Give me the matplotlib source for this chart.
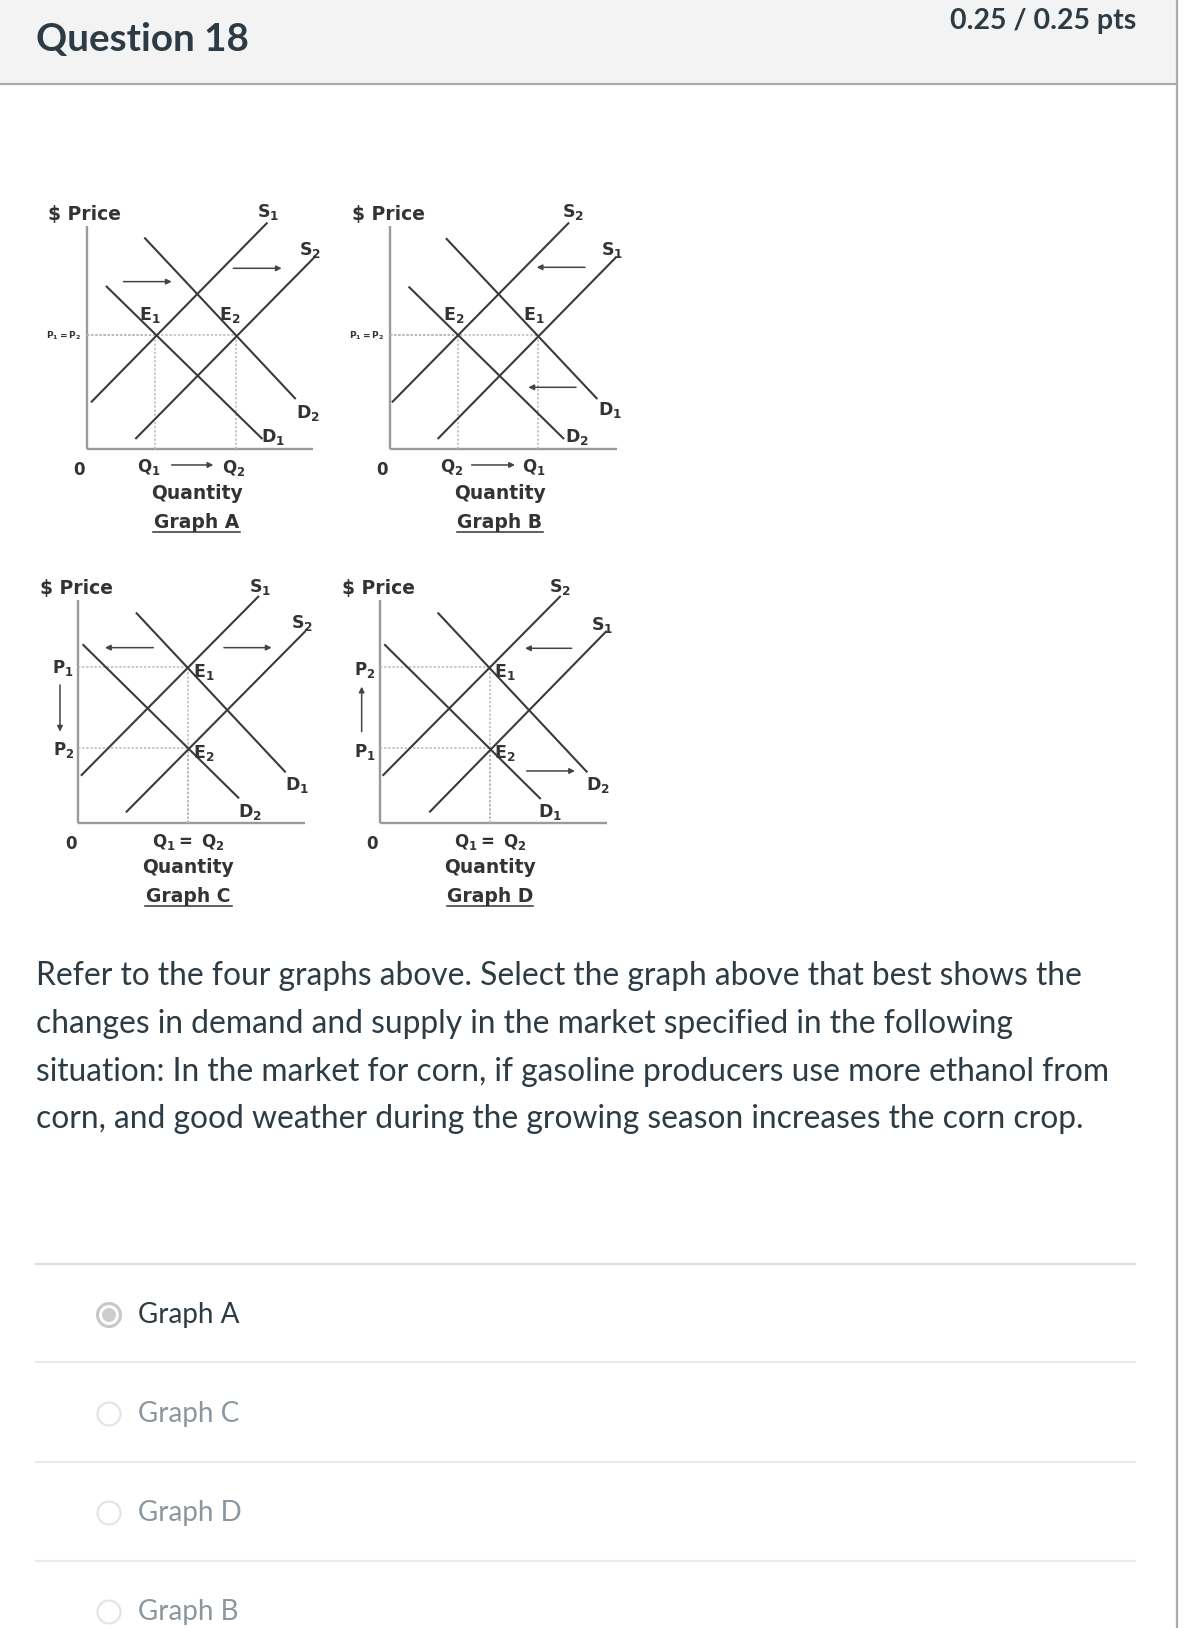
import matplotlib
matplotlib.use('Agg')
import matplotlib.pyplot as plt
from matplotlib.patches import Circle, Rectangle

plt.rcParams['mathtext.fontset'] = 'custom'
plt.rcParams['mathtext.rm'] = 'DejaVu Sans:bold'
plt.rcParams['mathtext.bf'] = 'DejaVu Sans:bold'
plt.rcParams['mathtext.it'] = 'DejaVu Sans:bold'

W, H = 1186, 1628

# ---------------- page text ----------------
question_title = 'Question 18'
score_text = '0.25 / 0.25 pts'
question_lines = [
    'Refer to the four graphs above. Select the graph above that best shows the',
    'changes in demand and supply in the market specified in the following',
    'situation: In the market for corn, if gasoline producers use more ethanol from',
    'corn, and good weather during the growing season increases the corn crop.',
]
option_labels = ['Graph A', 'Graph C', 'Graph D', 'Graph B']
selected_option = 'Graph A'

# ---------------- graph data (axis box: quantity 0..68, price 0..67) ----------------
graph_titles = ['Graph A', 'Graph B', 'Graph C', 'Graph D']

# curves: label -> (x pair, y pair)
A_curves = {'S1': ([1.5, 54.0], [14.3, 67.8]), 'S2': ([14.8, 68.5], [3.3, 57.8]),
            'D1': ([6.0, 52.5], [48.8, 3.3]), 'D2': ([17.5, 62.5], [63.3, 15.3])}
B_curves = {'S2': ([0.8, 53.5], [14.3, 67.8]), 'S1': ([14.5, 67.8], [3.3, 57.6]),
            'D2': ([5.8, 52.0], [48.6, 3.3]), 'D1': ([17.0, 62.0], [63.1, 15.3])}
C_curves = {'S1': ([1.0, 54.0], [14.5, 68.0]), 'S2': ([14.5, 68.0], [3.5, 57.5]),
            'D1': ([17.5, 62.0], [63.0, 15.5]), 'D2': ([1.5, 48.0], [53.5, 7.7])}
D_curves = {'S2': ([1.0, 54.0], [14.5, 68.0]), 'S1': ([15.0, 67.8], [3.5, 57.5]),
            'D2': ([17.5, 62.0], [63.0, 15.5]), 'D1': ([1.5, 48.0], [53.5, 7.5])}

# curve label positions
A_curve_labels = {'S1': (54.5, 71.3), 'S2': (67.0, 59.8), 'D2': (66.5, 10.8), 'D1': (56.0, 3.8)}
B_curve_labels = {'S2': (55.0, 71.3), 'S1': (66.5, 59.8), 'D1': (66.0, 11.8), 'D2': (56.0, 3.8)}
C_curve_labels = {'S1': (54.5, 71.0), 'S2': (67.0, 60.0), 'D1': (65.5, 11.5), 'D2': (51.5, 3.5)}
D_curve_labels = {'S2': (54.0, 71.0), 'S1': (66.5, 59.5), 'D2': (65.5, 11.5), 'D1': (51.0, 3.5)}

# equilibria: (x, y)
A_equil = {'E1': (20.5, 34.3), 'E2': (44.8, 34.3)}
B_equil = {'E2': (20.5, 34.3), 'E1': (44.5, 34.3)}
C_equil = {'E1': (33.0, 47.0), 'E2': (33.0, 22.5)}
D_equil = {'E1': (33.0, 47.0), 'E2': (33.0, 22.5)}

A_equil_labels = {'E1': (19.0, 40.3), 'E2': (43.0, 40.3)}
B_equil_labels = {'E2': (19.0, 40.3), 'E1': (43.0, 40.3)}
C_equil_labels = {'E1': (37.5, 45.5), 'E2': (37.5, 21.0)}
D_equil_labels = {'E1': (37.5, 45.5), 'E2': (37.5, 21.0)}

# shift arrows: (x start, y start, x end, y end)
A_arrows = [(11.0, 50.3, 25.5, 50.3), (44.0, 54.3, 58.5, 54.3), (25.5, -4.7, 38.0, -4.7)]
B_arrows = [(58.5, 54.6, 44.0, 54.6), (55.8, 18.6, 41.5, 18.6), (24.5, -4.7, 37.5, -4.7)]
C_arrows = [(22.5, 52.7, 8.0, 52.7), (43.7, 52.7, 58.0, 52.7), (-5.5, 41.5, -5.5, 27.5)]
D_arrows = [(57.5, 52.5, 43.5, 52.5), (44.0, 15.7, 58.5, 15.7), (-5.5, 27.5, -5.5, 41.0)]

# axis tick-like labels: (text, x, y, size)
A_axis_labels = [('P1=P2', -7.0, 34.0, 6.5), ('Q1', 18.5, -5.2, 12), ('Q2', 44.2, -5.7, 12)]
B_axis_labels = [('P1=P2', -7.0, 34.0, 6.5), ('Q2', 18.5, -5.2, 12), ('Q1', 43.0, -5.2, 12)]
C_axis_labels = [('P1', -4.5, 46.5, 12), ('P2', -4.5, 22.0, 12), ('Q1= Q2', 33.0, -5.5, 12)]
D_axis_labels = [('P2', -4.5, 46.0, 12), ('P1', -4.5, 21.5, 12), ('Q1= Q2', 33.0, -5.5, 12)]

# graph origins on the page (pixels)
graph_origins = [(86.7, 449.3), (390.0, 449.3), (78.3, 823.3), (380.0, 823.3)]
graph_curves = [A_curves, B_curves, C_curves, D_curves]
graph_curve_labels = [A_curve_labels, B_curve_labels, C_curve_labels, D_curve_labels]
graph_equil = [A_equil, B_equil, C_equil, D_equil]
graph_equil_labels = [A_equil_labels, B_equil_labels, C_equil_labels, D_equil_labels]
graph_arrows = [A_arrows, B_arrows, C_arrows, D_arrows]
graph_axis_labels = [A_axis_labels, B_axis_labels, C_axis_labels, D_axis_labels]

XMAX, YMAX = 68.0, 67.0
UNIT = 10.0 / 3.0  # pixels per data unit


def sub(label):
    out = ''
    for ch in label:
        if ch.isdigit():
            out += r'_{\mathrm{' + ch + '}}'
        elif ch == ' ':
            out += r'\ '
        else:
            out += r'\mathrm{' + ch + '}'
    return '$' + out + '$'


fig = plt.figure(figsize=(W / 100, H / 100), dpi=100)
fig.patch.set_facecolor('white')

bg = fig.add_axes([0, 0, 1, 1])
bg.set_xlim(0, W)
bg.set_ylim(H, 0)
bg.axis('off')

# header
bg.add_patch(Rectangle((0, 0), 1176, 84, facecolor='#f3f3f3', edgecolor='none'))
bg.plot([0, 1177], [84, 84], color='#ababab', lw=1.6)
bg.plot([1177, 1177], [0, H], color='#ababab', lw=1.6)
bg.text(36, 39, question_title, fontsize=27.8, fontweight='bold', family='Lato',
        color='#2d3b45', va='center', ha='left')
bg.text(1136, 21, score_text, fontsize=20.5, fontweight='bold', family='Lato',
        color='#2d3b45', va='center', ha='right')

# question text
line_y = [976, 1024, 1072, 1119]
for t, y in zip(question_lines, line_y):
    bg.text(36, y, t, fontsize=22.9, family='Lato', color='#2d3b45', va='center', ha='left')

# separators
sep_y = [1264, 1362, 1462, 1561]
for i, y in enumerate(sep_y):
    bg.plot([36, 1135], [y, y], color='#dcdfe1' if i == 0 else '#e8eaeb', lw=1.6)

# options
opt_y = [1315, 1414, 1513, 1612]
for lab, y in zip(option_labels, opt_y):
    if lab == selected_option:
        bg.add_patch(Circle((109, y), 11.5, facecolor='white', edgecolor='#c8c8c8', lw=2.2))
        bg.add_patch(Circle((109, y), 7, facecolor='#cccccc', edgecolor='none'))
        col = '#2d3b45'
    else:
        bg.add_patch(Circle((109, y), 11.5, facecolor='white', edgecolor='#e3e3e3', lw=1.5))
        col = '#8b969e'
    bg.text(138, y, lab, fontsize=20, family='Lato', color=col, va='center', ha='left')

# graphs
LC = '#3a3a3a'
TC = '#333333'
GF = 'DejaVu Sans'
for gi in range(4):
    ox, oy = graph_origins[gi]
    ax = fig.add_axes([ox / W, (H - oy) / H, XMAX * UNIT / W, YMAX * UNIT / H])
    ax.set_xlim(0, XMAX)
    ax.set_ylim(0, YMAX)
    ax.axis('off')
    ax.patch.set_alpha(0)

    ax.plot([0, 0], [0, YMAX], color='#9a9a9a', lw=1.7, clip_on=False, solid_capstyle='butt')
    ax.plot([0, XMAX], [0, 0], color='#9a9a9a', lw=1.7, clip_on=False, solid_capstyle='butt')

    eq = graph_equil[gi]
    for k, (ex, ey) in eq.items():
        ax.plot([0, ex], [ey, ey], color='#b8b8b8', lw=1.1, ls=(0, (1.5, 1.2)), clip_on=False)
        ax.plot([ex, ex], [0, ey], color='#b8b8b8', lw=1.1, ls=(0, (1.5, 1.2)), clip_on=False)

    for k, (xs, ys) in graph_curves[gi].items():
        ax.plot(xs, ys, color=LC, lw=1.5, clip_on=False)
    for k, (lx, ly) in graph_curve_labels[gi].items():
        ax.text(lx, ly, sub(k), fontsize=12.5, color=TC, ha='center', va='center')
    for k, (lx, ly) in graph_equil_labels[gi].items():
        ax.text(lx, ly, sub(k), fontsize=12.5, color=TC, ha='center', va='center')

    for (x0, y0, x1, y1) in graph_arrows[gi]:
        ax.annotate('', xy=(x1, y1), xytext=(x0, y0), annotation_clip=False,
                    arrowprops=dict(arrowstyle='-|>', color='#444444', lw=1.1, mutation_scale=8,
                                    shrinkA=0, shrinkB=0))

    for (t, lx, ly, fs) in graph_axis_labels[gi]:
        ax.text(lx, ly, sub(t), fontsize=fs, color=TC, ha='center', va='center')

    ax.text(-11.5, 70.3, '$ Price', fontsize=13.5, family=GF, fontweight='bold',
            color=TC, ha='left', va='center')
    ax.text(-2.3, -6.3, '0', fontsize=12, family=GF, fontweight='bold',
            color=TC, ha='center', va='center')
    ax.text(33.0, -13.3, 'Quantity', fontsize=13.5, family=GF, fontweight='bold',
            color=TC, ha='center', va='center')
    ax.text(33.0, -22.0, graph_titles[gi], fontsize=13.5, family=GF,
            fontweight='bold', color=TC, ha='center', va='center')
    ax.plot([20.0, 46.0], [-24.8, -24.8], color=TC, lw=1.1, clip_on=False)

fig.savefig('out.png', dpi=100, facecolor='white')
